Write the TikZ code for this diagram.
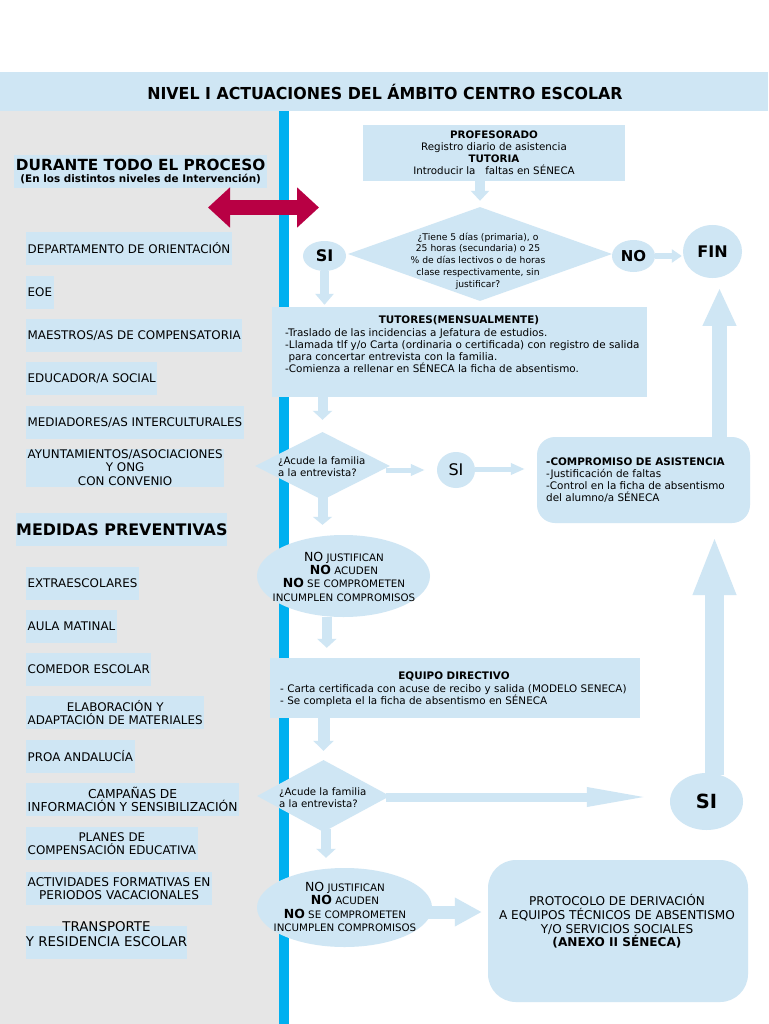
\documentclass[tikz,border=0pt]{standalone}
\usepackage{fontspec}
\setmainfont{DejaVu Sans}
\newfontfamily\condfont[FakeStretch=0.96]{DejaVu Sans}
\usetikzlibrary{shapes.geometric,arrows.meta,calc}
\definecolor{lb}{RGB}{207,230,244}
\definecolor{gr}{RGB}{230,230,230}
\definecolor{cy}{RGB}{0,176,240}
\definecolor{rd}{RGB}{184,0,68}
\newcommand\fs[2]{\fontsize{#1}{#2}\selectfont}
\tikzset{
  box/.style={fill=lb, inner sep=0pt},
  item/.style={fill=lb, inner xsep=1.5pt, inner ysep=0pt, minimum height=33pt, anchor=west, align=center, font=\fs{11.9}{13.5}},
  rtext/.style={inner sep=0pt, font=\fs{10.4}{12}},
  dtext/.style={inner sep=0pt, align=left, font=\fs{9.2}{11.8}},
  ell/.style={ellipse, fill=lb, inner sep=0pt},
  dia/.style={diamond, fill=lb, inner sep=0pt},
  blk/.style n args={3}{draw=lb, line width=#1, -{Triangle[width=#2,length=#3]}},
  ntext/.style={inner sep=0pt, align=center, font=\fs{10.3}{13.3}}
}
\newcommand\bigno[1]{{\fs{12.5}{13.3}#1}}
\begin{document}
\begin{tikzpicture}[x=1pt,y=-1pt]
\useasboundingbox (0,0) rectangle (768,1024);
\fill[white] (0,0) rectangle (768,1024);
\fill[gr] (0,111) rectangle (279,1024);
\fill[cy] (279,111) rectangle (289,1024);
\node[fill=lb, minimum width=768pt, minimum height=39pt, inner sep=0pt, anchor=north west] (title) at (0,72) {};
\node[inner sep=0pt, font=\condfont\bfseries\fs{16.5}{18}] (titlet) at (385,92) {NIVEL I ACTUACIONES DEL ÁMBITO CENTRO ESCOLAR};

% left column
\node[box, anchor=north west, minimum width=253pt, minimum height=33pt, align=center, font=\bfseries] (dur) at (14,155)
  {\bfseries\fs{15.3}{12.5}DURANTE TODO EL PROCESO\\\bfseries\fs{10.4}{12.5}(En los distintos niveles de Intervención)};
\node[item] (dep) at (26,248.5) {DEPARTAMENTO DE ORIENTACIÓN};
\node[item] (eoe) at (26,292.5) {EOE};
\node[item] (mae) at (26,335.5) {MAESTROS/AS DE COMPENSATORIA};
\node[item] (edu) at (26,378.5) {EDUCADOR/A SOCIAL};
\node[item] (med) at (26,422.5) {MEDIADORES/AS INTERCULTURALES};
\node[item, minimum height=38pt] (ayu) at (26,467.5) {AYUNTAMIENTOS/ASOCIACIONES\\Y ONG\\CON CONVENIO};
\node[item, inner xsep=0pt, font=\bfseries\fs{15.9}{18}] (medp) at (16,529.5) {MEDIDAS PREVENTIVAS};
\node[item] (ext) at (26,583.5) {EXTRAESCOLARES};
\node[item] (aul) at (26,626) {AULA MATINAL};
\node[item] (com) at (26,669.5) {COMEDOR ESCOLAR};
\node[item] (ela) at (26,712.5) {ELABORACIÓN Y\\ADAPTACIÓN DE MATERIALES};
\node[item] (proa) at (26,756.5) {PROA ANDALUCÍA};
\node[item, font=\fs{12.3}{13.5}] (camp) at (26,799.5) {CAMPAÑAS DE\\INFORMACIÓN Y SENSIBILIZACIÓN};
\node[item] (plan) at (26,843.5) {PLANES DE\\COMPENSACIÓN EDUCATIVA};
\node[item, font=\fs{12.1}{13.5}] (act) at (26,888.5) {ACTIVIDADES FORMATIVAS EN\\PERIODOS VACACIONALES};
\node[item, minimum width=161pt] (trans) at (26,942.5) {};
\node[inner sep=0pt, align=center, font=\fs{13.4}{14.5}] (transt) at (106.5,934) {TRANSPORTE\\Y RESIDENCIA ESCOLAR};

% red double arrow
\coordinate (rl) at (208,207.5);
\coordinate (rr) at (319,207.5);
\draw[draw=rd, line width=15pt, {Triangle[width=39pt,length=22pt]}-{Triangle[width=39pt,length=22pt]}] (rl) -- (rr);

% right flow
\node[box, minimum width=262pt, minimum height=56pt, align=center, font=\fs{10.3}{12}] (prof) at (494,153)
  {\textbf{PROFESORADO}\\Registro diario de asistencia\\\textbf{TUTORIA}\\Introducir la \ \ faltas en SÉNECA};
\node[dia, minimum width=264pt, minimum height=94pt] (d1) at (480,254) {};
\node[dtext, align=center] (d1t) at (478,261) {¿Tiene 5 días (primaria), o\\25 horas (secundaria) o 25\\\% de días lectivos o de horas\\clase respectivamente, sin\\justificar?};
\node[ell, minimum width=43pt, minimum height=30pt, font=\bfseries\fs{16}{16}] (si1) at (324.5,256) {SI};
\node[ell, minimum width=43pt, minimum height=32pt, font=\bfseries\fs{15}{15}] (no) at (633.5,256) {NO};
\node[ell, minimum width=59pt, minimum height=53pt, font=\bfseries\fs{16}{16}] (fin) at (712.5,251.5) {FIN};

\node[box, minimum width=375pt, minimum height=90pt] (tut) at (459.5,352) {};
\node[rtext, font=\bfseries\fs{10.4}{12}] (tutt) at (459,320) {TUTORES(MENSUALMENTE)};
\node[rtext, align=left, anchor=west] (tutb) at (285,350.5) {-Traslado de las incidencias a Jefatura de estudios.\\-Llamada tlf y/o Carta (ordinaria o certificada) con registro de salida\\\ para concertar entrevista con la familia.\\-Comienza a rellenar en SÉNECA la ficha de absentismo.};

\node[dia, minimum width=135pt, minimum height=68pt] (d2) at (322.5,466) {};
\node[dtext, anchor=west, font=\fs{10.2}{12}] (d2t) at (278,467) {¿Acude la familia\\a la entrevista?};
\node[ell, minimum width=38pt, minimum height=36pt, font=\fs{16}{16}] (si2) at (456,470) {SI};
\node[box, rounded corners=18pt, minimum width=213pt, minimum height=86pt] (comp) at (643.5,480) {};
\node[rtext, align=left, anchor=west] (compt) at (546,480) {\textbf{-COMPROMISO DE ASISTENCIA}\\-Justificación de faltas\\-Control en la ficha de absentismo\\del alumno/a SÉNECA};

\node[ell, minimum width=173pt, minimum height=82pt] (ell1) at (343.5,576) {};
\node[ntext] (ell1t) at (344,576.5) {\bigno{NO} JUSTIFICAN\\\bigno{\bfseries NO} ACUDEN\\\bigno{\bfseries NO} SE COMPROMETEN\\INCUMPLEN COMPROMISOS};

\node[box, minimum width=370pt, minimum height=60pt] (eq) at (455,688) {};
\node[rtext, font=\bfseries\fs{10.4}{12}] (eqt) at (454,676) {EQUIPO DIRECTIVO};
\node[rtext, align=left, anchor=west] (eqb) at (280,695.5) {- Carta certificada con acuse de recibo y salida (MODELO SENECA)\\- Se completa el la ficha de absentismo en SÉNECA};

\node[dia, minimum width=133pt, minimum height=72pt] (d3) at (323.5,796) {};
\node[dtext, anchor=west, font=\fs{10.2}{12}] (d3t) at (279,797.5) {¿Acude la familia\\a la entrevista?};
\node[ell, minimum width=73pt, minimum height=57pt, font=\bfseries\fs{19.5}{19.5}] (si3) at (706.5,801.5) {SI};

\node[ell, minimum width=175pt, minimum height=79pt] (ell2) at (344.5,907.5) {};
\node[ntext] (ell2t) at (345,907) {\bigno{NO} JUSTIFICAN\\\bigno{\bfseries NO} ACUDEN\\\bigno{\bfseries NO} SE COMPROMETEN\\INCUMPLEN COMPROMISOS};

\node[box, rounded corners=28pt, minimum width=260pt, minimum height=142pt] (prot) at (618,931) {};
\node[inner sep=0pt, align=center, font=\fs{12.1}{13.6}] (prott) at (617,921.5) {PROTOCOLO DE DERIVACIÓN\\A EQUIPOS TÉCNICOS DE ABSENTISMO\\Y/O SERVICIOS SOCIALES\\\textbf{(ANEXO II SÉNECA)}};

% connectors
\draw[blk={10pt}{18pt}{10pt}] ($(prof.south)+(-14,0)$) -- ($(d1.north)+(0,-6)$);
\draw[blk={9pt}{18pt}{11pt}] (si1.south) -- ($(si1.south |- tut.north)+(0,-2)$);
\draw[blk={6pt}{13pt}{10pt}] (no.east) -- ($(no.east -| fin.west)+(-1,0)$);
\draw[blk={15pt}{31pt}{38pt}] ($(comp.north)+(76,0)$) -- ($(comp.north)+(76,-149)$);
\draw[blk={10pt}{19pt}{9pt}] (tut.south -| d2.north) -- ($(d2.north)+(0,-12)$);
\draw[blk={5pt}{11pt}{14pt}] ($(d2.east |- si2.west)+(-4,0)$) -- ($(si2.west)+(-12,0)$);
\draw[blk={5pt}{11pt}{14pt}] ($(si2.east)+(0,-1)$) -- ($(si2.east -| comp.west)+(-12,-1)$);
\draw[blk={10pt}{19pt}{8pt}] ($(d2.south)+(0,-3)$) -- ($(ell1.north)+(-21,-10)$);
\draw[blk={10pt}{19pt}{9pt}] ($(eq.north west)+(57,-41)$) -- ($(eq.north west)+(57,-10)$);
\draw[blk={12pt}{20pt}{10pt}] (eq.south -| d3.north) -- ($(d3.north)+(0,-9)$);
\draw[blk={9pt}{17pt}{66pt}] ($(d3.east)+(-4,1)$) -- ($(d3.east -| si3.west)+(-17,1)$);
\draw[blk={19pt}{39pt}{60pt}] ($(si3.north)+(8,2)$) -- ($(comp.south)+(71,12)$);
\draw[blk={10pt}{19pt}{9pt}] ($(d3.south)+(2.5,-3)$) -- ($(ell2.north)+(-18.5,-10)$);
\draw[blk={13pt}{27pt}{27pt}] ($(ell2.east)+(-4,4.5)$) -- ($(prot.west)+(-6,-19)$);
\end{tikzpicture}
\end{document}
